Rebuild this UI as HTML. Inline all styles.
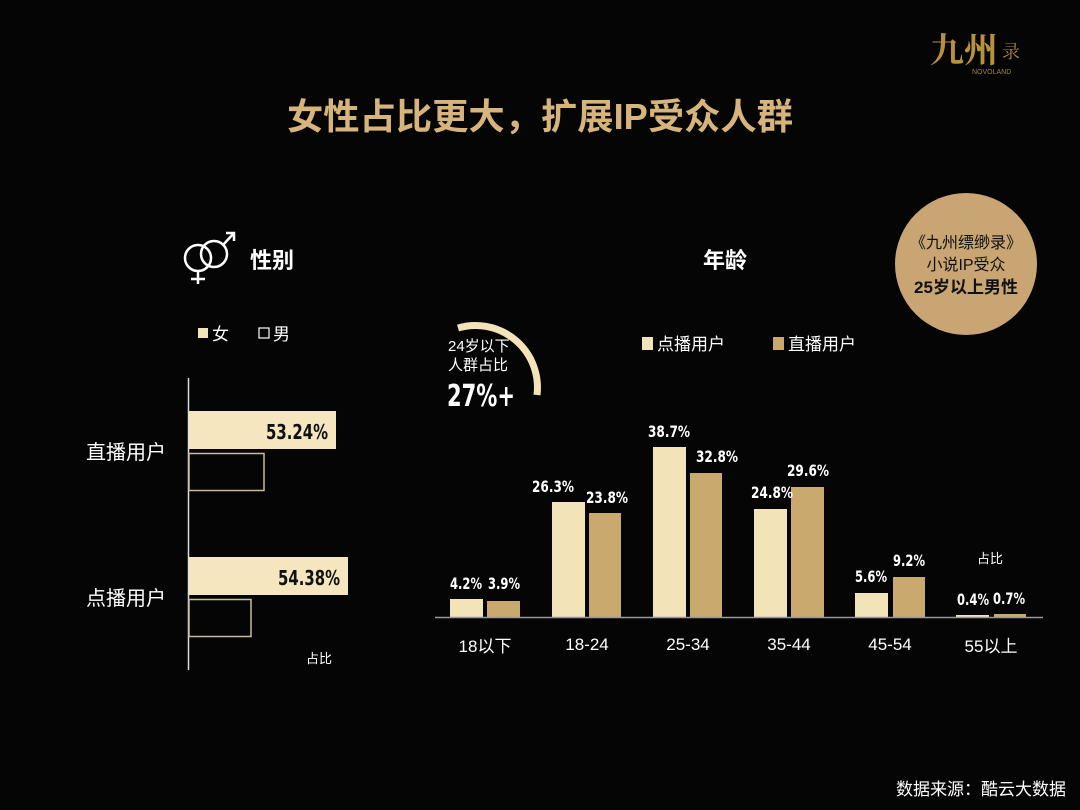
<!DOCTYPE html>
<html><head><meta charset="utf-8"><style>
html,body{margin:0;padding:0;background:#050505;}
svg{display:block;font-family:"Liberation Sans","Noto Sans CJK SC",sans-serif;}
.c{font-family:"Liberation Sans","Noto Sans CJK SC",sans-serif;}
.n{font-family:"DejaVu Sans Condensed","Liberation Sans Narrow","Liberation Sans",sans-serif;font-weight:bold;}
</style></head><body>
<svg width="1080" height="810" viewBox="0 0 1080 810" xmlns="http://www.w3.org/2000/svg">
<rect width="1080" height="810" fill="#050505"/>
<!-- logo -->
<text x="930" y="62" font-size="34" font-weight="bold" fill="#b8913e" font-family="Noto Serif CJK SC,serif">九州</text>
<text x="1002" y="58" font-size="18" fill="#a8843a" font-family="Noto Serif CJK SC,serif">录</text>
<text x="972" y="74" font-size="7" fill="#a08050">NOVOLAND</text>
<!-- title -->
<text x="540" y="129" text-anchor="middle" font-size="36" font-weight="bold" fill="#d6b47c" class="c" textLength="506" lengthAdjust="spacingAndGlyphs">女性占比更大，扩展IP受众人群</text>
<!-- gender icon -->
<g fill="none" stroke="#fff" stroke-width="2.5">
<circle cx="198" cy="258" r="13"/><circle cx="214" cy="254" r="13"/>
<line x1="198" y1="271" x2="198" y2="284"/><line x1="191" y1="279" x2="205" y2="279"/>
<line x1="223" y1="245" x2="234" y2="233"/><polyline points="226,233 234,233 234,241"/>
</g>
<text x="250" y="268" font-size="22" font-weight="bold" fill="#fff" class="c">性别</text>
<!-- legend left -->
<rect x="198" y="328" width="10" height="10" fill="#f3e3b8"/>
<text x="212" y="340" font-size="17" fill="#fff" class="c">女</text>
<rect x="259" y="328" width="10" height="10" fill="none" stroke="#fff" stroke-width="1.2"/>
<text x="273" y="340" font-size="17" fill="#fff" class="c">男</text>
<!-- left chart -->
<line x1="188.5" y1="378" x2="188.5" y2="670" stroke="#ddd" stroke-width="1.5"/>
<rect x="189" y="411" width="147" height="38" fill="#f5e6bf"/>
<text x="328" y="439" text-anchor="end" font-size="20" class="n" fill="#111" textLength="62" lengthAdjust="spacingAndGlyphs">53.24%</text>
<rect x="189" y="453.5" width="75" height="37" fill="none" stroke="#cbbd9c" stroke-width="1.5"/>
<rect x="189" y="557" width="159" height="38" fill="#f5e6bf"/>
<text x="340" y="585" text-anchor="end" font-size="20" class="n" fill="#111" textLength="62" lengthAdjust="spacingAndGlyphs">54.38%</text>
<rect x="189" y="599.5" width="62" height="37" fill="none" stroke="#cbbd9c" stroke-width="1.5"/>
<text x="166" y="459" text-anchor="end" font-size="20" fill="#fff" class="c">直播用户</text>
<text x="166" y="605" text-anchor="end" font-size="20" fill="#fff" class="c">点播用户</text>
<text x="306" y="663" font-size="13" fill="#fff" class="c">占比</text>
<!-- age title -->
<text x="725" y="268" text-anchor="middle" font-size="22" font-weight="bold" fill="#fff" class="c">年龄</text>
<!-- circle callout -->
<circle cx="966" cy="264" r="71" fill="#c8a572"/>
<text x="966" y="248" text-anchor="middle" font-size="16" fill="#111" class="c">《九州缥缈录》</text>
<text x="966" y="270" text-anchor="middle" font-size="16" fill="#111" class="c">小说IP受众</text>
<text x="966" y="293" text-anchor="middle" font-size="17" font-weight="bold" fill="#111" class="c">25岁以上男性</text>
<!-- arc -->
<path d="M 458 328 A 62 62 0 0 1 537 395" fill="none" stroke="#f2e3b8" stroke-width="7"/>
<text x="448" y="351" font-size="15" fill="#fff" class="c">24岁以下</text>
<text x="448" y="370" font-size="15" fill="#fff" class="c">人群占比</text>
<text x="447" y="406" font-size="30" class="n" fill="#fff" textLength="68" lengthAdjust="spacingAndGlyphs">27%+</text>
<!-- legend right -->
<rect x="642" y="337" width="11" height="13" fill="#f3e3b8"/>
<text x="657" y="350" font-size="17" fill="#fff" class="c">点播用户</text>
<rect x="773" y="337" width="11" height="13" fill="#c9a96e"/>
<text x="788" y="350" font-size="17" fill="#fff" class="c">直播用户</text>
<!-- bars -->
<g fill="#f3e3b8">
<rect x="450" y="599" width="33" height="18"/>
<rect x="552" y="502" width="33" height="115"/>
<rect x="653" y="447" width="33" height="170"/>
<rect x="754" y="509" width="33" height="108"/>
<rect x="855" y="593" width="33" height="24"/>
<rect x="956" y="615" width="33" height="2"/>
</g>
<g fill="#c9a96e">
<rect x="487" y="601" width="33" height="16"/>
<rect x="589" y="513" width="32" height="104"/>
<rect x="690" y="473" width="32" height="144"/>
<rect x="791" y="487" width="33" height="130"/>
<rect x="893" y="577" width="32" height="40"/>
<rect x="994" y="614" width="32" height="3"/>
</g>
<line x1="435" y1="617.5" x2="1043" y2="617.5" stroke="#999" stroke-width="1.5"/>
<g font-size="16" class="n" fill="#fff" text-anchor="middle">
<text x="466" y="589" textLength="32" lengthAdjust="spacingAndGlyphs">4.2%</text><text x="504" y="589" textLength="32" lengthAdjust="spacingAndGlyphs">3.9%</text>
<text x="553" y="492" textLength="42" lengthAdjust="spacingAndGlyphs">26.3%</text><text x="607" y="503" textLength="42" lengthAdjust="spacingAndGlyphs">23.8%</text>
<text x="669" y="437" textLength="42" lengthAdjust="spacingAndGlyphs">38.7%</text><text x="717" y="462" textLength="42" lengthAdjust="spacingAndGlyphs">32.8%</text>
<text x="772" y="498" textLength="42" lengthAdjust="spacingAndGlyphs">24.8%</text><text x="808" y="476" textLength="42" lengthAdjust="spacingAndGlyphs">29.6%</text>
<text x="871" y="582" textLength="32" lengthAdjust="spacingAndGlyphs">5.6%</text><text x="909" y="566" textLength="32" lengthAdjust="spacingAndGlyphs">9.2%</text>
<text x="973" y="605" textLength="32" lengthAdjust="spacingAndGlyphs">0.4%</text><text x="1009" y="604" textLength="32" lengthAdjust="spacingAndGlyphs">0.7%</text>
</g>
<text x="990" y="563" text-anchor="middle" font-size="13" fill="#fff" class="c">占比</text>
<g font-size="17" fill="#fff" text-anchor="middle" class="c">
<text x="485" y="652">18以下</text>
<text x="587" y="650">18-24</text>
<text x="688" y="650">25-34</text>
<text x="789" y="650">35-44</text>
<text x="890" y="650">45-54</text>
<text x="991" y="652">55以上</text>
</g>
<text x="1066" y="795" text-anchor="end" font-size="17" fill="#fff" class="c">数据来源：酷云大数据</text>
</svg>
</body></html>
